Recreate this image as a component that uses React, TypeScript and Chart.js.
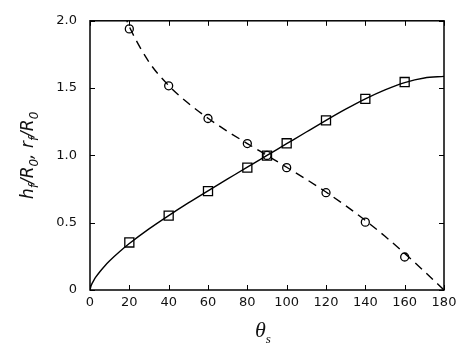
import React, { useEffect, useRef } from 'react';
import { Chart, registerables } from 'chart.js';
Chart.register(...registerables);

const xTicks = [0, 20, 40, 60, 80, 100, 120, 140, 160, 180];
const yTicks = [0, 0.5, 1, 1.5, 2];
const yTickLabels = ['0', '0.5', '1.0', '1.5', '2.0'];

const markerTheta = [20, 40, 60, 80, 90, 100, 120, 140, 160];
const hMarkers = [0.353, 0.553, 0.735, 0.909, 0.998, 1.09, 1.26, 1.42, 1.545];
const rMarkers = [1.94, 1.517, 1.274, 1.088, 1.0, 0.909, 0.723, 0.504, 0.245];

const hCurveTheta = [0, 0.5, 1, 2, 3, 5, 7.5, 10, 15, 20, 30, 40, 50, 60, 70, 80, 90, 100, 110, 120, 130, 140, 150, 160, 170, 180];
const hCurve = [0, 0.03, 0.047, 0.074, 0.097, 0.136, 0.179, 0.217, 0.284, 0.345, 0.454, 0.553, 0.647, 0.737, 0.825, 0.913, 1.0, 1.087, 1.174, 1.26, 1.343, 1.42, 1.487, 1.541, 1.575, 1.587];
const rCurveTheta = [15, 18, 20, 30, 40, 50, 60, 70, 80, 90, 100, 110, 120, 130, 140, 150, 160, 170, 180];
const rCurve = [2.16, 2.03, 1.957, 1.694, 1.519, 1.387, 1.276, 1.178, 1.088, 1.0, 0.912, 0.822, 0.728, 0.626, 0.517, 0.399, 0.272, 0.138, 0];

const yTitle = [
  { t: 'h', sub: false }, { t: 'f', sub: true }, { t: '/R', sub: false }, { t: '0', sub: true },
  { t: ', r', sub: false }, { t: 'f', sub: true }, { t: '/R', sub: false }, { t: '0', sub: true },
];
const xTitle = [{ t: 'θ', sub: false }, { t: 's', sub: true }];

const zip = (xs: number[], ys: number[]) => xs.map((x, i) => ({ x, y: ys[i] }));

function drawRich(ctx: CanvasRenderingContext2D, parts: { t: string; sub: boolean }[], family: string, size: number, subSize: number) {
  const big = `italic ${size}px ${family}`;
  const small = `italic ${subSize}px ${family}`;
  let total = 0;
  const widths = parts.map((p) => {
    ctx.font = p.sub ? small : big;
    const w = ctx.measureText(p.t).width;
    total += w;
    return w;
  });
  let x = -total / 2;
  parts.forEach((p, i) => {
    ctx.font = p.sub ? small : big;
    ctx.fillText(p.t, x, p.sub ? size * 0.28 : 0);
    x += widths[i];
  });
}

const framePlugin = {
  id: 'frame',
  afterDraw(chart: any) {
    const { ctx, chartArea: a, scales } = chart;
    const xs = scales.x;
    const ys = scales.y;
    ctx.save();
    ctx.strokeStyle = '#000';
    ctx.lineWidth = 1.5;
    ctx.strokeRect(a.left, a.top, a.right - a.left, a.bottom - a.top);
    ctx.lineWidth = 1;
    const tl = 5;
    ctx.beginPath();
    xTicks.forEach((v) => {
      const px = Math.round(xs.getPixelForValue(v)) + 0.5;
      ctx.moveTo(px, a.bottom); ctx.lineTo(px, a.bottom - tl);
      ctx.moveTo(px, a.top); ctx.lineTo(px, a.top + tl);
    });
    yTicks.forEach((v) => {
      const py = Math.round(ys.getPixelForValue(v)) + 0.5;
      ctx.moveTo(a.left, py); ctx.lineTo(a.left + tl, py);
      ctx.moveTo(a.right, py); ctx.lineTo(a.right - tl, py);
    });
    ctx.stroke();

    ctx.fillStyle = '#111';
    ctx.textBaseline = 'alphabetic';
    ctx.textAlign = 'left';
    ctx.save();
    ctx.translate(33, (a.top + a.bottom) / 2);
    ctx.rotate(-Math.PI / 2);
    drawRich(ctx, yTitle, '"DejaVu Sans"', 17, 12);
    ctx.restore();
    ctx.save();
    ctx.translate(263, 337);
    drawRich(ctx, xTitle, '"Liberation Serif"', 22, 13);
    ctx.restore();
    ctx.restore();
  },
};

export default function App() {
  const ref = useRef<HTMLCanvasElement>(null);
  useEffect(() => {
    if (!ref.current) return;
    const tickFont = { family: '"DejaVu Sans"', size: 13 };
    const chart = new Chart(ref.current, {
      type: 'scatter',
      data: {
        datasets: [
          {
            type: 'line',
            data: zip(hCurveTheta, hCurve),
            borderColor: '#000',
            borderWidth: 1.4,
            pointRadius: 0,
            cubicInterpolationMode: 'monotone',
            fill: false,
          },
          {
            type: 'line',
            data: zip(rCurveTheta, rCurve),
            borderColor: '#000',
            borderWidth: 1.4,
            borderDash: [9, 6],
            pointRadius: 0,
            cubicInterpolationMode: 'monotone',
            fill: false,
          },
          {
            data: zip(markerTheta, hMarkers),
            pointStyle: 'rect',
            pointRadius: 6.4,
            borderColor: '#000',
            backgroundColor: 'rgba(0,0,0,0)',
            borderWidth: 1.3,
            showLine: false,
          },
          {
            data: zip(markerTheta, rMarkers),
            pointStyle: 'circle',
            pointRadius: 4,
            borderColor: '#000',
            backgroundColor: 'rgba(0,0,0,0)',
            borderWidth: 1.3,
            showLine: false,
          },
        ],
      } as any,
      options: {
        animation: false,
        responsive: false,
        events: [],
        layout: { padding: { left: 0, top: 7, right: 30, bottom: 0 } },
        plugins: { legend: { display: false }, tooltip: { enabled: false } },
        scales: {
          x: {
            type: 'linear',
            min: 0,
            max: 180,
            afterBuildTicks: (s: any) => { s.ticks = xTicks.map((v) => ({ value: v })); },
            afterFit: (s: any) => { s.height = 63; },
            grid: { display: true, drawOnChartArea: false, drawTicks: false },
            border: { display: false },
            ticks: { color: '#111', font: tickFont, padding: 5, maxRotation: 0, autoSkip: false, callback: (v: any) => String(v) },
          },
          y: {
            type: 'linear',
            min: 0,
            max: 2,
            afterBuildTicks: (s: any) => { s.ticks = yTicks.map((v) => ({ value: v })); },
            afterFit: (s: any) => { s.width = 90; },
            grid: { display: true, drawOnChartArea: false, drawTicks: false },
            border: { display: false },
            ticks: {
              color: '#111', font: tickFont, padding: 13, autoSkip: false,
              callback: (v: any) => yTickLabels[yTicks.indexOf(Number(v))] ?? '',
            },
          },
        },
      } as any,
      plugins: [framePlugin],
    });
    return () => chart.destroy();
  }, []);
  return (
    <div style={{ position: 'fixed', left: 0, top: 0, width: 474, height: 353, background: '#fff' }}>
      <canvas ref={ref} width={474} height={353} style={{ display: 'block' }} />
    </div>
  );
}
